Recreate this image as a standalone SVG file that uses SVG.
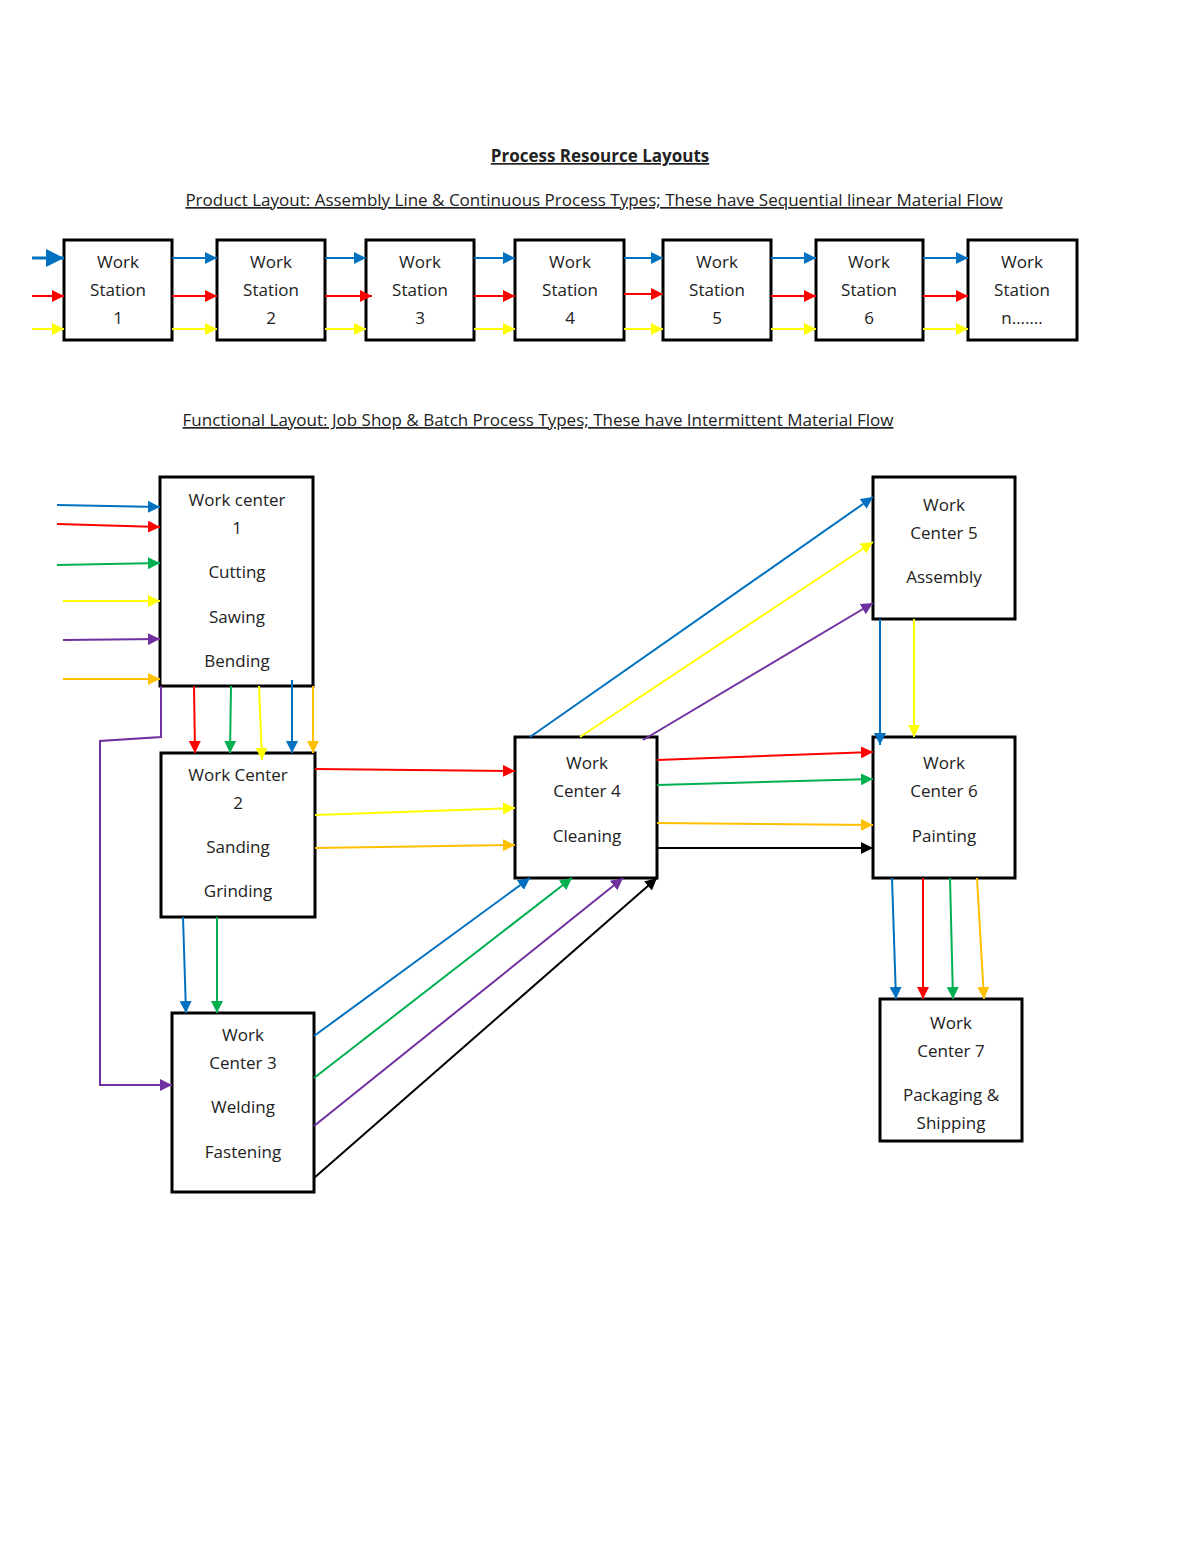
<svg xmlns="http://www.w3.org/2000/svg" width="1200" height="1553" viewBox="0 0 1200 1553">
<defs>
<style>
text{font-family:"Open Sans","Liberation Sans",sans-serif;font-size:17px;fill:#222;text-anchor:middle}
.t{font-weight:bold;text-decoration:underline}
.u{text-decoration:underline}
.box{fill:#fff;stroke:#000;stroke-width:3}
.c line,.c polyline{fill:none;stroke-width:2}
.b{stroke:#0070C0}.r{stroke:#FF0000}.g{stroke:#00B050}.y{stroke:#FFFF00}.p{stroke:#7030A0}.o{stroke:#FFC000}.k{stroke:#000}
</style>
<marker id="mb" viewBox="0 0 10 10" refX="10" refY="5" markerWidth="6" markerHeight="6" orient="auto"><path d="M0,0L10,5L0,10z" fill="#0070C0"/></marker>
<marker id="mr" viewBox="0 0 10 10" refX="10" refY="5" markerWidth="6" markerHeight="6" orient="auto"><path d="M0,0L10,5L0,10z" fill="#FF0000"/></marker>
<marker id="mg" viewBox="0 0 10 10" refX="10" refY="5" markerWidth="6" markerHeight="6" orient="auto"><path d="M0,0L10,5L0,10z" fill="#00B050"/></marker>
<marker id="my" viewBox="0 0 10 10" refX="10" refY="5" markerWidth="6" markerHeight="6" orient="auto"><path d="M0,0L10,5L0,10z" fill="#FFFF00"/></marker>
<marker id="mp" viewBox="0 0 10 10" refX="10" refY="5" markerWidth="6" markerHeight="6" orient="auto"><path d="M0,0L10,5L0,10z" fill="#7030A0"/></marker>
<marker id="mo" viewBox="0 0 10 10" refX="10" refY="5" markerWidth="6" markerHeight="6" orient="auto"><path d="M0,0L10,5L0,10z" fill="#FFC000"/></marker>
<marker id="mk" viewBox="0 0 10 10" refX="10" refY="5" markerWidth="6" markerHeight="6" orient="auto"><path d="M0,0L10,5L0,10z" fill="#000"/></marker>
</defs>
<rect width="1200" height="1553" fill="#fff"/>
<text x="600" y="162" class="t">Process Resource Layouts</text>
<text x="594" y="206" class="u">Product Layout: Assembly Line &amp; Continuous Process Types; These have Sequential linear Material Flow</text>
<text x="538" y="426" class="u">Functional Layout: Job Shop &amp; Batch Process Types; These have Intermittent Material Flow</text>

<g id="ws1"><rect class="box" x="64" y="240" width="108" height="100"/><text x="118" y="268">Work</text><text x="118" y="296">Station</text><text x="118" y="324">1</text></g>
<g id="ws2"><rect class="box" x="217" y="240" width="108" height="100"/><text x="271" y="268">Work</text><text x="271" y="296">Station</text><text x="271" y="324">2</text></g>
<g id="ws3"><rect class="box" x="366" y="240" width="108" height="100"/><text x="420" y="268">Work</text><text x="420" y="296">Station</text><text x="420" y="324">3</text></g>
<g id="ws4"><rect class="box" x="515" y="240" width="109" height="100"/><text x="570" y="268">Work</text><text x="570" y="296">Station</text><text x="570" y="324">4</text></g>
<g id="ws5"><rect class="box" x="663" y="240" width="108" height="100"/><text x="717" y="268">Work</text><text x="717" y="296">Station</text><text x="717" y="324">5</text></g>
<g id="ws6"><rect class="box" x="816" y="240" width="107" height="100"/><text x="869" y="268">Work</text><text x="869" y="296">Station</text><text x="869" y="324">6</text></g>
<g id="wsn"><rect class="box" x="968" y="240" width="109" height="100"/><text x="1022" y="268">Work</text><text x="1022" y="296">Station</text><text x="1022" y="324">n…….</text></g>

<g id="wc1"><rect class="box" x="160" y="477" width="153" height="209"/><text x="237" y="506">Work center</text><text x="237" y="534">1</text><text x="237" y="578">Cutting</text><text x="237" y="623">Sawing</text><text x="237" y="667">Bending</text></g>
<g id="wc2"><rect class="box" x="161" y="753" width="154" height="164"/><text x="238" y="781">Work Center</text><text x="238" y="809">2</text><text x="238" y="853">Sanding</text><text x="238" y="897">Grinding</text></g>
<g id="wc3"><rect class="box" x="172" y="1013" width="142" height="179"/><text x="243" y="1041">Work</text><text x="243" y="1069">Center 3</text><text x="243" y="1113">Welding</text><text x="243" y="1158">Fastening</text></g>
<g id="wc4"><rect class="box" x="515" y="737" width="142" height="141"/><text x="587" y="769">Work</text><text x="587" y="797">Center 4</text><text x="587" y="842">Cleaning</text></g>
<g id="wc5"><rect class="box" x="873" y="477" width="142" height="142"/><text x="944" y="511">Work</text><text x="944" y="539">Center 5</text><text x="944" y="583">Assembly</text></g>
<g id="wc6"><rect class="box" x="873" y="737" width="142" height="141"/><text x="944" y="769">Work</text><text x="944" y="797">Center 6</text><text x="944" y="842">Painting</text></g>
<g id="wc7"><rect class="box" x="880" y="999" width="142" height="142"/><text x="951" y="1029">Work</text><text x="951" y="1057">Center 7</text><text x="951" y="1101">Packaging &amp;</text><text x="951" y="1129">Shipping</text></g>

<g id="connectors" class="c">
<line class="b" x1="32" y1="258" x2="64" y2="258" marker-end="url(#mb)" style="stroke-width:3"/>
<line class="r" x1="32" y1="296" x2="64" y2="296" marker-end="url(#mr)"/>
<line class="y" x1="32" y1="329" x2="64" y2="329" marker-end="url(#my)"/>
<line class="b" x1="172" y1="258" x2="217" y2="258" marker-end="url(#mb)"/>
<line class="r" x1="172" y1="296" x2="217" y2="296" marker-end="url(#mr)"/>
<line class="y" x1="172" y1="329" x2="217" y2="329" marker-end="url(#my)"/>
<line class="b" x1="325" y1="258" x2="366" y2="258" marker-end="url(#mb)"/>
<line class="r" x1="325" y1="296" x2="372" y2="296" marker-end="url(#mr)"/>
<line class="y" x1="325" y1="329" x2="366" y2="329" marker-end="url(#my)"/>
<line class="b" x1="474" y1="258" x2="515" y2="258" marker-end="url(#mb)"/>
<line class="r" x1="474" y1="296" x2="515" y2="296" marker-end="url(#mr)"/>
<line class="y" x1="474" y1="329" x2="515" y2="329" marker-end="url(#my)"/>
<line class="b" x1="624" y1="258" x2="663" y2="258" marker-end="url(#mb)"/>
<line class="r" x1="624" y1="294" x2="663" y2="294" marker-end="url(#mr)"/>
<line class="y" x1="624" y1="329" x2="663" y2="329" marker-end="url(#my)"/>
<line class="b" x1="771" y1="258" x2="816" y2="258" marker-end="url(#mb)"/>
<line class="r" x1="771" y1="296" x2="816" y2="296" marker-end="url(#mr)"/>
<line class="y" x1="771" y1="329" x2="816" y2="329" marker-end="url(#my)"/>
<line class="b" x1="923" y1="258" x2="968" y2="258" marker-end="url(#mb)"/>
<line class="r" x1="923" y1="296" x2="968" y2="296" marker-end="url(#mr)"/>
<line class="y" x1="923" y1="329" x2="968" y2="329" marker-end="url(#my)"/>

<line class="b" x1="57" y1="505" x2="160" y2="507" marker-end="url(#mb)"/>
<line class="r" x1="57" y1="524" x2="160" y2="527" marker-end="url(#mr)"/>
<line class="g" x1="57" y1="565" x2="160" y2="563" marker-end="url(#mg)"/>
<line class="y" x1="63" y1="601" x2="160" y2="601" marker-end="url(#my)"/>
<line class="p" x1="63" y1="640" x2="160" y2="639" marker-end="url(#mp)"/>
<line class="o" x1="63" y1="679" x2="160" y2="679" marker-end="url(#mo)"/>
<line class="r" x1="194" y1="686" x2="195" y2="753" marker-end="url(#mr)"/>
<line class="g" x1="231" y1="686" x2="230" y2="753" marker-end="url(#mg)"/>
<line class="y" x1="259" y1="686" x2="262" y2="760" marker-end="url(#my)"/>
<line class="b" x1="292" y1="680" x2="292" y2="753" marker-end="url(#mb)"/>
<line class="o" x1="313" y1="686" x2="313" y2="753" marker-end="url(#mo)"/>
<polyline class="p" points="161,686 161,737 100,741 100,1085 172,1085" marker-end="url(#mp)"/>
<line class="r" x1="315" y1="769" x2="515" y2="771" marker-end="url(#mr)"/>
<line class="y" x1="315" y1="815" x2="515" y2="808" marker-end="url(#my)"/>
<line class="o" x1="315" y1="848" x2="515" y2="845" marker-end="url(#mo)"/>
<line class="b" x1="183" y1="917" x2="186" y2="1013" marker-end="url(#mb)"/>
<line class="g" x1="217" y1="917" x2="217" y2="1013" marker-end="url(#mg)"/>
<line class="b" x1="314" y1="1036" x2="530" y2="878" marker-end="url(#mb)"/>
<line class="g" x1="314" y1="1078" x2="572" y2="878" marker-end="url(#mg)"/>
<line class="p" x1="314" y1="1126" x2="623" y2="878" marker-end="url(#mp)"/>
<line class="k" x1="314" y1="1178" x2="657" y2="878" marker-end="url(#mk)"/>
<line class="b" x1="530" y1="737" x2="873" y2="497" marker-end="url(#mb)"/>
<line class="y" x1="580" y1="737" x2="873" y2="542" marker-end="url(#my)"/>
<line class="p" x1="643" y1="740" x2="873" y2="603" marker-end="url(#mp)"/>
<line class="b" x1="880" y1="619" x2="880" y2="745" marker-end="url(#mb)"/>
<line class="y" x1="914" y1="619" x2="914" y2="737" marker-end="url(#my)"/>
<line class="r" x1="657" y1="760" x2="873" y2="752" marker-end="url(#mr)"/>
<line class="g" x1="657" y1="785" x2="873" y2="779" marker-end="url(#mg)"/>
<line class="o" x1="657" y1="823" x2="873" y2="825" marker-end="url(#mo)"/>
<line class="k" x1="657" y1="848" x2="873" y2="848" marker-end="url(#mk)"/>
<line class="b" x1="892" y1="878" x2="896" y2="999" marker-end="url(#mb)"/>
<line class="r" x1="923" y1="878" x2="923" y2="999" marker-end="url(#mr)"/>
<line class="g" x1="950" y1="878" x2="953" y2="999" marker-end="url(#mg)"/>
<line class="o" x1="977" y1="878" x2="984" y2="999" marker-end="url(#mo)"/>
</g>
</svg>
